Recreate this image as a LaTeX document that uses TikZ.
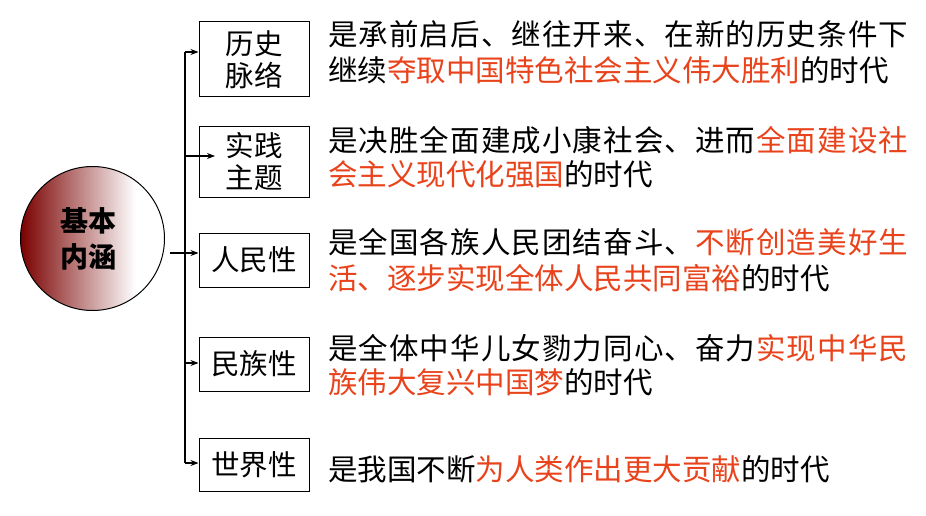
\documentclass[tikz,border=0pt]{standalone}
\usepackage{fontspec}
\setmainfont{Noto Sans CJK SC}
\usetikzlibrary{arrows.meta}
\definecolor{hl}{RGB}{233,67,28}
\definecolor{dred}{RGB}{122,0,0}
\pgfdeclarehorizontalshading{redfade}{100bp}{color(0bp)=(dred); color(25bp)=(dred); color(65bp)=(white); color(100bp)=(white)}
\makeatletter
\def\spreadchars#1{\spr@a#1\@nil}
\def\spr@a#1#2\@nil{#1\ifx\relax#2\relax\else\hfill\spr@a#2\@nil\fi}
\makeatother
\newcommand\jline[1]{\hbox to 580pt{#1}}
\tikzset{
  labelbox/.style={draw=black, line width=1pt, minimum width=110pt, inner sep=0pt, align=center,
    font=\fontsize{28.5}{32}\selectfont},
  desc/.style={anchor=west, inner sep=0pt, font=\fontsize{29.5}{35}\selectfont},
  conn/.style={line width=1.2pt, draw=black},
  arr/.style={conn, -{Stealth[length=8pt,width=6pt]}},
}
\begin{document}
\begin{tikzpicture}[x=1pt,y=-1pt]
\useasboundingbox[fill=white] (0,0) rectangle (926,516);
% central circle
\node[circle, draw=black, line width=1pt, minimum size=144pt, shading=redfade] (c) at (92.5,238.5) {};
\node[align=center, inner sep=0pt, font=\fontsize{28}{36}\selectfont\bfseries] (ct) at (88,239) {基本\\内涵};
% boxes
\node[labelbox, minimum height=75pt] (b1) at (254,59.5) {历史\\脉络};
\node[labelbox, minimum height=70pt] (b2) at (254,162) {实践\\主题};
\node[labelbox, minimum height=54pt] (b3) at (254,260) {人民性};
\node[labelbox, minimum height=54pt] (b4) at (254,364) {民族性};
\node[labelbox, minimum height=53pt] (b5) at (254,464.5) {世界性};
% connectors
\coordinate (vt) at (185,52);
\coordinate (v2) at (185,156);
\coordinate (a2) at (215,156);
\coordinate (cs) at (170,253);
\coordinate (v4) at (185,363);
\coordinate (vb) at (185,463);
\draw[conn] (vt) -- (vb);
\draw[arr] (vt) -- (b1.west |- vt);
\draw[arr] (v2) -- (a2);
\draw[arr] (cs) -- (b3.west |- cs);
\draw[arr] (v4) -- (b4.west |- v4);
\draw[arr] (vb) -- (b5.west |- vb);
% descriptions
\node[desc] (t1a) at (328,34.5) {\jline{\spreadchars{是承前启后、继往开来、在新的历史条件下}}};
\node[desc] (t1b) at (328,70) {继续\textcolor{hl}{夺取中国特色社会主义伟大胜利}的时代};
\node[desc] (t2a) at (328,140) {\jline{\spreadchars{是决胜全面建成小康社会、进而}\hfill\textcolor{hl}{\spreadchars{全面建设社}}}};
\node[desc] (t2b) at (328,174) {\textcolor{hl}{会主义现代化强国}的时代};
\node[desc] (t3a) at (328,242) {\jline{\spreadchars{是全国各族人民团结奋斗、}\hfill\textcolor{hl}{\spreadchars{不断创造美好生}}}};
\node[desc] (t3b) at (328,278) {\textcolor{hl}{活、逐步实现全体人民共同富裕}的时代};
\node[desc] (t4a) at (328,348) {\jline{\spreadchars{是全体中华儿女勠力同心、奋力}\hfill\textcolor{hl}{\spreadchars{实现中华民}}}};
\node[desc] (t4b) at (328,382) {\textcolor{hl}{族伟大复兴中国梦}的时代};
\node[desc] (t5) at (328,469) {是我国不断\textcolor{hl}{为人类作出更大贡献}的时代};
\end{tikzpicture}
\end{document}
